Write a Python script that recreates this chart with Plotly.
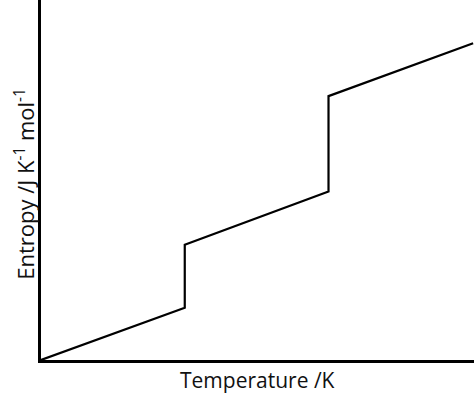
import plotly.graph_objects as go

temperature = [0, 33.2, 33.2, 66.4, 66.4, 99.8]
entropy = [0, 14.5, 32.0, 46.8, 73.3, 88.0]
x_title = "Temperature /K"
y_title = "Entropy /J K<sup>-1</sup> mol<sup>-1</sup>"

fig = go.Figure()
fig.add_trace(go.Scatter(x=temperature, y=entropy, mode="lines",
                         line=dict(color="black", width=2.2), hoverinfo="skip"))

fig.update_layout(
    width=474, height=407,
    margin=dict(l=41, r=0, t=0, b=47),
    paper_bgcolor="white", plot_bgcolor="white",
    showlegend=False,
    font=dict(family="Open Sans", color="#111111"),
    xaxis=dict(range=[0, 100], showgrid=False, zeroline=False, showticklabels=False,
               ticks="", showline=True, linecolor="black", linewidth=3),
    yaxis=dict(range=[0, 100], showgrid=False, zeroline=False, showticklabels=False,
               ticks="", showline=True, linecolor="black", linewidth=3),
    annotations=[
        dict(text=x_title, xref="paper", yref="paper", x=0.50, y=0, yshift=-4,
             xanchor="center", yanchor="top", showarrow=False,
             font=dict(size=21, family="Open Sans", color="#111111")),
        dict(text=y_title, xref="paper", yref="paper", x=-0.039, y=0.49,
             xanchor="center", yanchor="middle", showarrow=False, textangle=-90,
             font=dict(size=22, family="Open Sans", color="#111111")),
    ],
)

fig.write_html("out.html", config={"displayModeBar": False},
               post_script="document.body.style.margin='0';document.body.style.overflow='hidden';")
